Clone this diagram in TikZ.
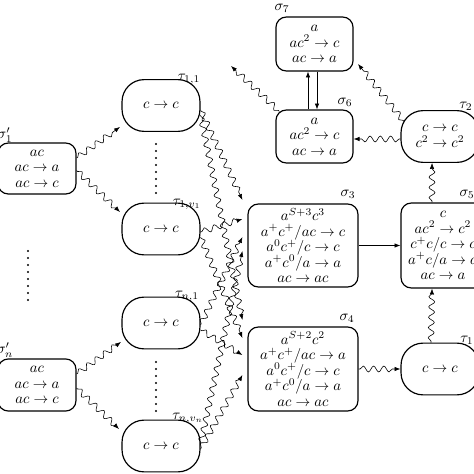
\documentclass[tikz,border=0pt]{standalone}
\usetikzlibrary{shapes.misc,decorations.pathmorphing,arrows.meta,calc}
\lineskiplimit=-20pt
\begin{document}
\begin{tikzpicture}[x=0.68pt,y=-0.68pt,
  txt/.style={font=\fontsize{10}{10.5}\selectfont},
  sbox/.style={txt,draw,thick,rounded corners=7pt,align=center,inner sep=1pt},
  tnode/.style={txt,draw,thick,rectangle,rounded corners=15pt,
     minimum width=53pt,minimum height=35.2pt,inner sep=1pt,align=center},
  wave/.style={decorate,decoration={snake,amplitude=2pt,segment length=7pt,pre length=1pt,post length=3pt},
     -{Latex[length=4pt,width=3pt]}},
  arr/.style={-{Latex[length=4pt,width=3pt]}},
  lab/.style={inner sep=0pt}
]
\clip (0,0) rectangle (474,474);

% left boxes
\node[sbox,minimum width=53pt,minimum height=34.7pt] (s1p) at (37,168.5) {$ac$\\$ac\to a$\\$ac\to c$};
\node[sbox,minimum width=53pt,minimum height=35.4pt] (snp) at (37,385) {$ac$\\$ac\to a$\\$ac\to c$};
\node[lab] (ls1p) at (5,135) {$\sigma'_1$};
\node[lab] (lsnp) at (5,350) {$\sigma'_n$};

% tau nodes
\node[tnode] (t11) at (161,105.5) {$c\to c$};
\node[tnode] (t1v) at (161,229) {$c\to c$};
\node[tnode] (tn1) at (161,323) {$c\to c$};
\node[tnode] (tnv) at (161,446) {$c\to c$};
\node[lab] (lt11) at (189,79) {$\tau_{1,1}$};
\node[lab] (lt1v) at (187,204) {$\tau_{1,v_1}$};
\node[lab] (ltn1) at (187,296) {$\tau_{n,1}$};
\node[lab] (ltnv) at (188,418) {$\tau_{n,v_n}$};

% sigma boxes
\node[sbox,minimum width=74.8pt,minimum height=56.4pt] (s3) at (303,245.5)
  {$a^{S+3}c^3$\\$a^+c^+/ac\to c$\\$a^0c^+/c\to c$\\$a^+c^0/a\to a$\\$ac\to ac$};
\node[sbox,minimum width=74.8pt,minimum height=57.1pt] (s4) at (303,369)
  {$a^{S+2}c^2$\\$a^+c^+/ac\to a$\\$a^0c^+/c\to c$\\$a^+c^0/a\to a$\\$ac\to ac$};
\node[sbox,minimum width=52.4pt,minimum height=36.7pt] (s7) at (314.5,44) {$a$\\$ac^2\to c$\\$ac\to a$};
\node[sbox,minimum width=52.4pt,minimum height=36pt] (s6) at (314.5,136.5) {$a$\\$ac^2\to c$\\$ac\to a$};
\node[sbox,minimum width=57.1pt,minimum height=57.8pt] (s5) at (443,245.5)
  {$c$\\$ac^2\to c^2$\\$c^+c/c\to c$\\$a^+c/a\to a$\\$ac\to a$};
\node[tnode] (tau2) at (440,136.5) {$c\to c$\\$c^2\to c^2$};
\node[tnode] (tau1) at (440,369) {$c\to c$};
\node[lab] (ls3) at (348,194) {$\sigma_3$};
\node[lab] (ls4) at (347,318) {$\sigma_4$};
\node[lab] (ls7) at (282,8) {$\sigma_7$};
\node[lab] (ls6) at (345,102) {$\sigma_6$};
\node[lab] (ls5) at (467,194) {$\sigma_5$};
\node[lab] (ltau2) at (466,106) {$\tau_2$};
\node[lab] (ltau1) at (467,340) {$\tau_1$};

% dots
\foreach \y in {251,258,...,301} \fill (28,\y) circle (0.7pt);
\foreach \y in {144,151,...,193} \fill (156,\y) circle (0.7pt);
\foreach \y in {362,369,...,411} \fill (156,\y) circle (0.7pt);

% free ends
\coordinate (e1) at (231,66);
\coordinate (e2) at (358,64);

% left waves
\draw[wave] ($(s1p.east)+(0,-10.5)$) -- ($(t11)+(-41,21.5)$);
\draw[wave] ($(s1p.east)+(0,2)$) -- ($(t1v)+(-41,-17)$);
\draw[wave] ($(snp.east)+(0,-11)$) -- ($(tn1)+(-40,19)$);
\draw[wave] ($(snp.east)+(0,3)$) -- ($(tnv)+(-42,-17)$);

% tau -> sigma3 / sigma4
\draw[wave] ($(t11.east)+(0,4.5)$) -- ($(s3.west)+(-5,-45.5)$);
\draw[wave] ($(t11.east)+(0,9.5)$) -- ($(s4.west)+(-5,-49)$);
\draw[wave] ($(t1v.east)+(0,3)$) -- ($(s3.west)+(-5,-26.5)$);
\draw[wave] ($(t1v.east)+(0,8)$) -- ($(s4.west)+(-5,-31)$);
\draw[wave] ($(tn1.east)+(0,2)$) -- ($(s3.west)+(-5,-8.5)$);
\draw[wave] ($(tn1.east)+(0,7)$) -- ($(s4.west)+(-5,-14)$);
\draw[wave] ($(tnv.east)+(0,-2)$) -- ($(s3.west)+(-5,5.5)$);
\draw[wave] ($(tnv.east)+(0,3)$) -- ($(s4.west)+(-5,6)$);

% right side
\draw[wave] (s4.east) -- (tau1.west);
\draw[wave] ($(tau1.north)+(-9,0)$) -- ($(s5.south)+(-11,0)$);
\draw[wave] ($(s5.north)+(-11,0)$) -- ($(tau2.south)+(-8,0)$);
\draw[wave] ($(tau2.west)+(0,2.5)$) -- ($(s6.east)+(0,2.5)$);
\draw[wave] ($(tau2)+(-36,-15)$) -- (e2);
\draw[wave] ($(s6.north west)+(4,2)$) -- (e1);

% straight arrows
\draw[arr] ($(s6.north)+(-6.5,0)$) -- ($(s7.south)+(-6.5,0)$);
\draw[arr] ($(s7.south)+(2.5,0)$) -- ($(s6.north)+(2.5,0)$);
\draw[arr] (s3.east) -- (s5.west);
\end{tikzpicture}
\end{document}
